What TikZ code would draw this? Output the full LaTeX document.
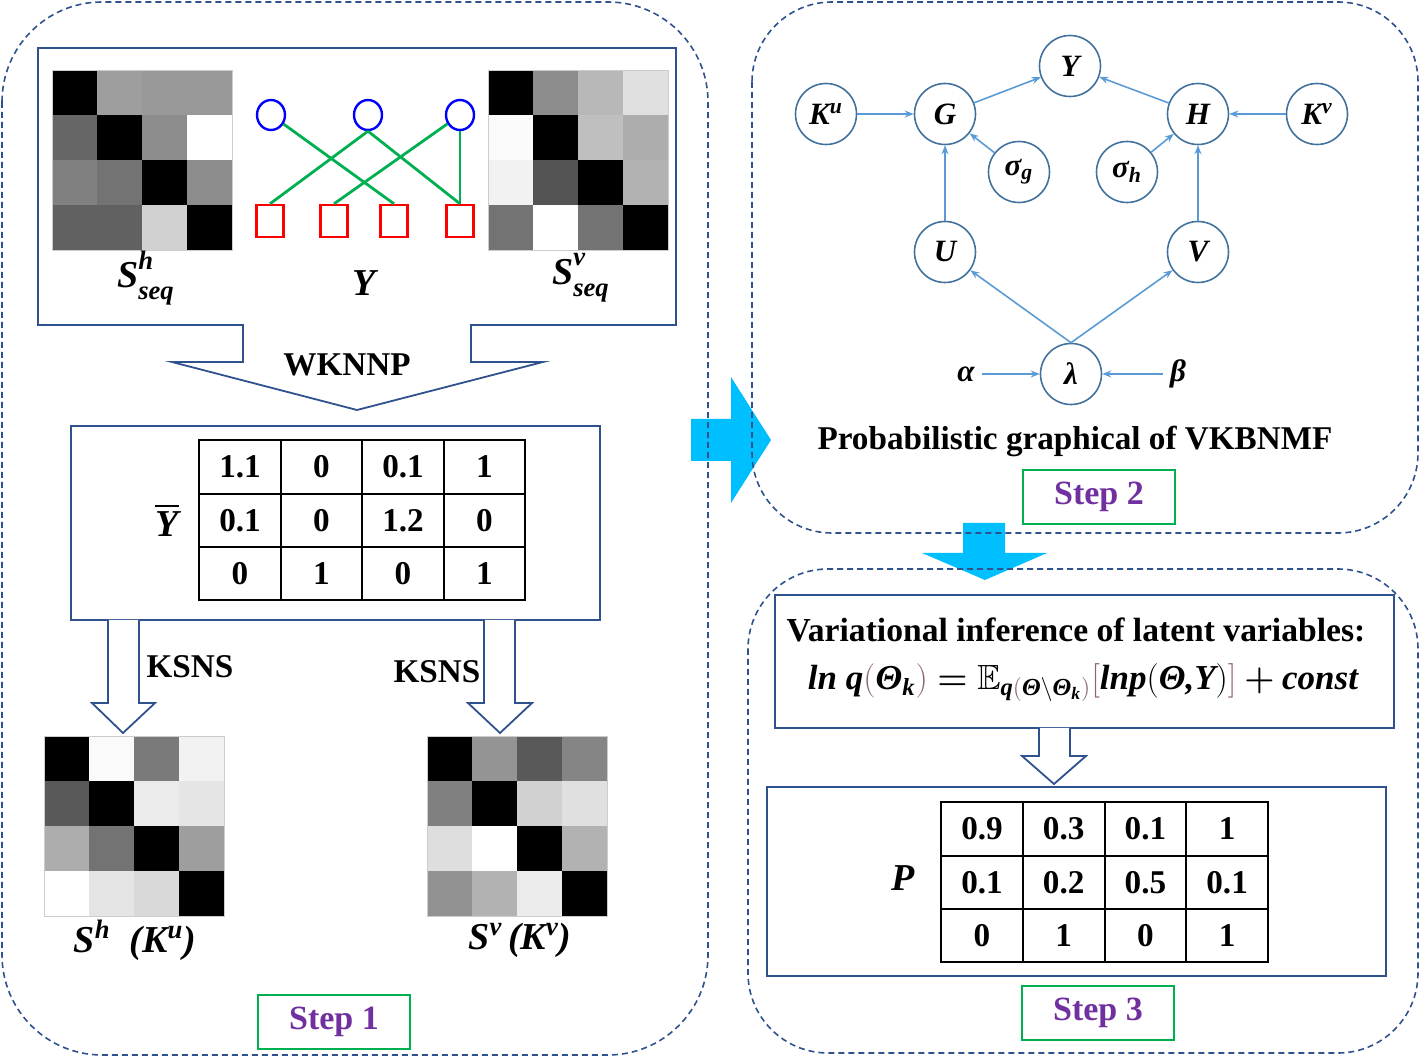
\documentclass[tikz,border=0pt]{standalone}
\usepackage{fontspec}
\setmainfont{Liberation Serif}
\usepackage{amsmath}
\usepackage{amssymb}
\usetikzlibrary{shapes.geometric, arrows.meta, positioning, calc}

\definecolor{boxblue}{RGB}{47,82,143}
\definecolor{nodeblue}{RGB}{65,113,156}
\definecolor{edgeblue}{RGB}{91,155,213}
\definecolor{arrowcyan}{RGB}{0,191,255}
\definecolor{stepgreen}{RGB}{0,176,80}
\definecolor{steppurple}{RGB}{112,48,160}
\definecolor{parbrown}{RGB}{140,105,105}

\newcommand{\bi}[1]{\text{\bfseries\itshape #1}}

\begin{document}
\begin{tikzpicture}[x=0.5pt, y=-0.5pt,
    every node/.style={font=\fontsize{16.6}{19}\selectfont\bfseries},
    region/.style={draw=boxblue, line width=0.8pt, dash pattern=on 3pt off 2pt},
    panel/.style={draw=boxblue, line width=0.9pt},
    hollow/.style={draw=boxblue, line width=0.9pt, fill=white},
    stepbox/.style={draw=stepgreen, line width=0.9pt, text=steppurple, minimum width=76pt,
                    minimum height=27pt, inner sep=0pt, font=\fontsize{17}{20}\selectfont\bfseries},
    cell/.style={draw, line width=0.9pt, minimum width=40.75pt, minimum height=26.65pt, inner sep=0pt},
    vnode/.style={draw=blue, line width=1.2pt, ellipse, minimum width=14pt, minimum height=15pt, inner sep=0pt},
    inode/.style={draw=red, line width=1.2pt, minimum width=13.5pt, minimum height=16pt, inner sep=0pt},
    link/.style={draw=stepgreen, line width=1.4pt},
    gnode/.style={draw=nodeblue, circle, line width=0.8pt, minimum size=30.5pt, inner sep=0pt,
                  font=\fontsize{15.5}{18}\selectfont\bfseries},
    gedge/.style={draw=edgeblue, line width=0.8pt, -{Stealth[length=4.5pt, width=3.5pt]}},
    lbl/.style={font=\fontsize{19}{22}\selectfont\bfseries}]

\useasboundingbox (0,0) rectangle (1420,1058);

% block arrows between the steps
\fill[arrowcyan] (691,419) -- (731,419) -- (731,377) -- (771,440) -- (731,503) -- (731,461) -- (691,461) -- cycle;
\fill[arrowcyan] (963,523) -- (1005,523) -- (1005,553) -- (1047,553) -- (985,580) -- (922,553) -- (963,553) -- cycle;

\draw[region, rounded corners=50pt] (2,2) rectangle (708,1055);
\draw[region, rounded corners=40pt] (752,2) rectangle (1418,533);
\draw[region, rounded corners=40pt] (748,569) rectangle (1418,1053);

% Step 1
\draw[panel] (38,48) -- (676,48) -- (676,325) -- (471,325) -- (471,362) -- (543,362) -- (357,410)
             -- (172,362) -- (243,362) -- (243,325) -- (38,325) -- cycle;
\node (wknnp) at (347,365) {WKNNP};

\foreach \row [count=\r from 0] in {{0,62,60,60},{40,0,55,100},{50,45,0,55},{38,38,82,0}}
  \foreach \v [count=\c from 0] in \row
    \fill[white!\v!black] (52+45*\c,70+45*\r) rectangle ++(45,45);
\foreach \row [count=\r from 0] in {{0,55,72,88},{98,0,75,68},{95,33,0,70},{45,100,45,0}}
  \foreach \v [count=\c from 0] in \row
    \fill[white!\v!black] (488+45*\c,70+45*\r) rectangle ++(45,45);
\foreach \row [count=\r from 0] in {{0,98,48,95},{35,0,92,90},{68,45,0,62},{100,90,85,0}}
  \foreach \v [count=\c from 0] in \row
    \fill[white!\v!black] (44+45*\c,736+45*\r) rectangle ++(45,45);
\foreach \row [count=\r from 0] in {{0,58,35,52},{50,0,82,88},{87,100,0,70},{57,70,92,0}}
  \foreach \v [count=\c from 0] in \row
    \fill[white!\v!black] (427+45*\c,736+45*\r) rectangle ++(45,45);
\draw[gray!40] (52,70) rectangle ++(180,180) (488,70) rectangle ++(180,180)
               (44,736) rectangle ++(180,180) (427,736) rectangle ++(180,180);

\node[vnode] (c1) at (271,115) {};
\node[vnode] (c2) at (368,115) {};
\node[vnode] (c3) at (460,115) {};
\node[inode] (s1) at (270,221) {};
\node[inode] (s2) at (334,221) {};
\node[inode] (s3) at (394,221) {};
\node[inode] (s4) at (460,221) {};
\draw[link] (c1) -- (s3.north);
\draw[link] (c2.south) -- (s1.north);
\draw[link] (c2.south) -- (s4.north);
\draw[link] (c3) -- (s2.north);
\draw[link] (c3.south) -- (s4.north);

\node[lbl] (shseq) at (146,278) {$\bi{S}^{\bi{\raisebox{2pt}{h}}}_{\bi{\raisebox{-2pt}{seq}}}$};
\node[lbl] (ylab) at (364,283) {$\bi{Y}$};
\node[lbl] (svseq) at (581,278) {$\bi{S}^{\bi{\raisebox{2pt}{v}}}_{\bi{\raisebox{-2pt}{seq}}}$};

\draw[panel] (71,426) rectangle (600,620);
\node[lbl] (ybar) at (167,520) {$\overline{\bi{Y}}$};
\foreach \row [count=\r from 0] in {{1.1,0,0.1,1},{0.1,0,1.2,0},{0,1,0,1}}
  \foreach \v [count=\c from 0] in \row
    \node[cell] (yb-\r-\c) at (240+81.5*\c,467+53.3*\r) {\v};

\draw[hollow] (108,620) -- (108,703) -- (92,703) -- (123,733) -- (155,703) -- (139,703) -- (139,620);
\draw[hollow] (484,620) -- (484,703) -- (468,703) -- (500,733) -- (532,703) -- (515,703) -- (515,620);
\node (ksns1) at (190,667) {KSNS};
\node (ksns2) at (437,672) {KSNS};

\node[lbl] (shku) at (135,940) {$\bi{S}^{\bi{h}}\ \ \bi{(}\bi{K}^{\bi{u}}\bi{)}$};
\node[lbl] (svkv) at (520,940) {$\bi{S}^{\bi{v}}\,\bi{(}\bi{K}^{\bi{v}}\bi{)}$};

\node[stepbox] (step1) at (334,1022) {Step 1};

% Step 2
\node[gnode] (Y) at (1070,66) {$\bi{Y}$};
\node[gnode] (Ku) at (826,114) {$\bi{K}^{\bi{u}}$};
\node[gnode] (G) at (945,114) {$\bi{G}$};
\node[gnode] (H) at (1198,114) {$\bi{H}$};
\node[gnode] (Kv) at (1317,114) {$\bi{K}^{\bi{v}}$};
\node[gnode] (sg) at (1019,172) {$\bi{σ}_{\bi{g}}$};
\node[gnode] (sh) at (1127,172) {$\bi{σ}_{\bi{h}}$};
\node[gnode] (U) at (945,252) {$\bi{U}$};
\node[gnode] (V) at (1198,252) {$\bi{V}$};
\node[gnode] (lam) at (1071,374) {$\bi{λ}$};
\node[font=\fontsize{15.5}{18}\selectfont\bfseries] (alpha) at (966,374) {$\bi{α}$};
\node[font=\fontsize{15.5}{18}\selectfont\bfseries] (beta) at (1178,374) {$\bi{β}$};

\draw[gedge] (Ku) -- (G);
\draw[gedge] (G) -- (Y);
\draw[gedge] (H) -- (Y);
\draw[gedge] (Kv) -- (H);
\draw[gedge] (sg) -- (G);
\draw[gedge] (sh) -- (H);
\draw[gedge] (U) -- (G);
\draw[gedge] (V) -- (H);
\draw[gedge] (lam.north) -- (U);
\draw[gedge] (lam.north) -- (V);
\draw[gedge] (alpha) -- (lam);
\draw[gedge] (beta) -- (lam);

\node (caption) at (1075,441) {Probabilistic graphical of VKBNMF};
\node[stepbox] (step2) at (1099,497) {Step 2};

% Step 3
\draw[panel] (775,595) rectangle (1394,728);
\node[font=\fontsize{16.8}{19}\selectfont\bfseries] (vi) at (1076,630) {Variational inference of latent variables:};
\node[font=\fontsize{17.5}{20}\selectfont\bfseries] (formula) at (1083,683)
  {$\bi{ln q}{\color{parbrown}(}\bi{Θ}_{\bi{k}}{\color{parbrown})} \boldsymbol{=} \mathbb{E}_{\bi{q}{\color{parbrown}(}\bi{Θ}\backslash\bi{Θ}_{\bi{k}}{\color{parbrown})}}{\color{parbrown}[}\bi{lnp}(\bi{Θ}\bi{,}\bi{Y}){\color{parbrown}]} \boldsymbol{+} \bi{const}$};

\draw[hollow] (1039,728) -- (1039,756) -- (1022,756) -- (1054,784) -- (1086,756) -- (1070,756) -- (1070,728);

\draw[panel] (767,787) rectangle (1386,976);
\node[lbl] (plab) at (903,878) {$\bi{P}$};
\foreach \row [count=\r from 0] in {{0.9,0.3,0.1,1},{0.1,0.2,0.5,0.1},{0,1,0,1}}
  \foreach \v [count=\c from 0] in \row
    \node[cell] (p-\r-\c) at (982+81.7*\c,829+53.3*\r) {\v};

\node[stepbox] (step3) at (1098,1013) {Step 3};

\end{tikzpicture}
\end{document}
